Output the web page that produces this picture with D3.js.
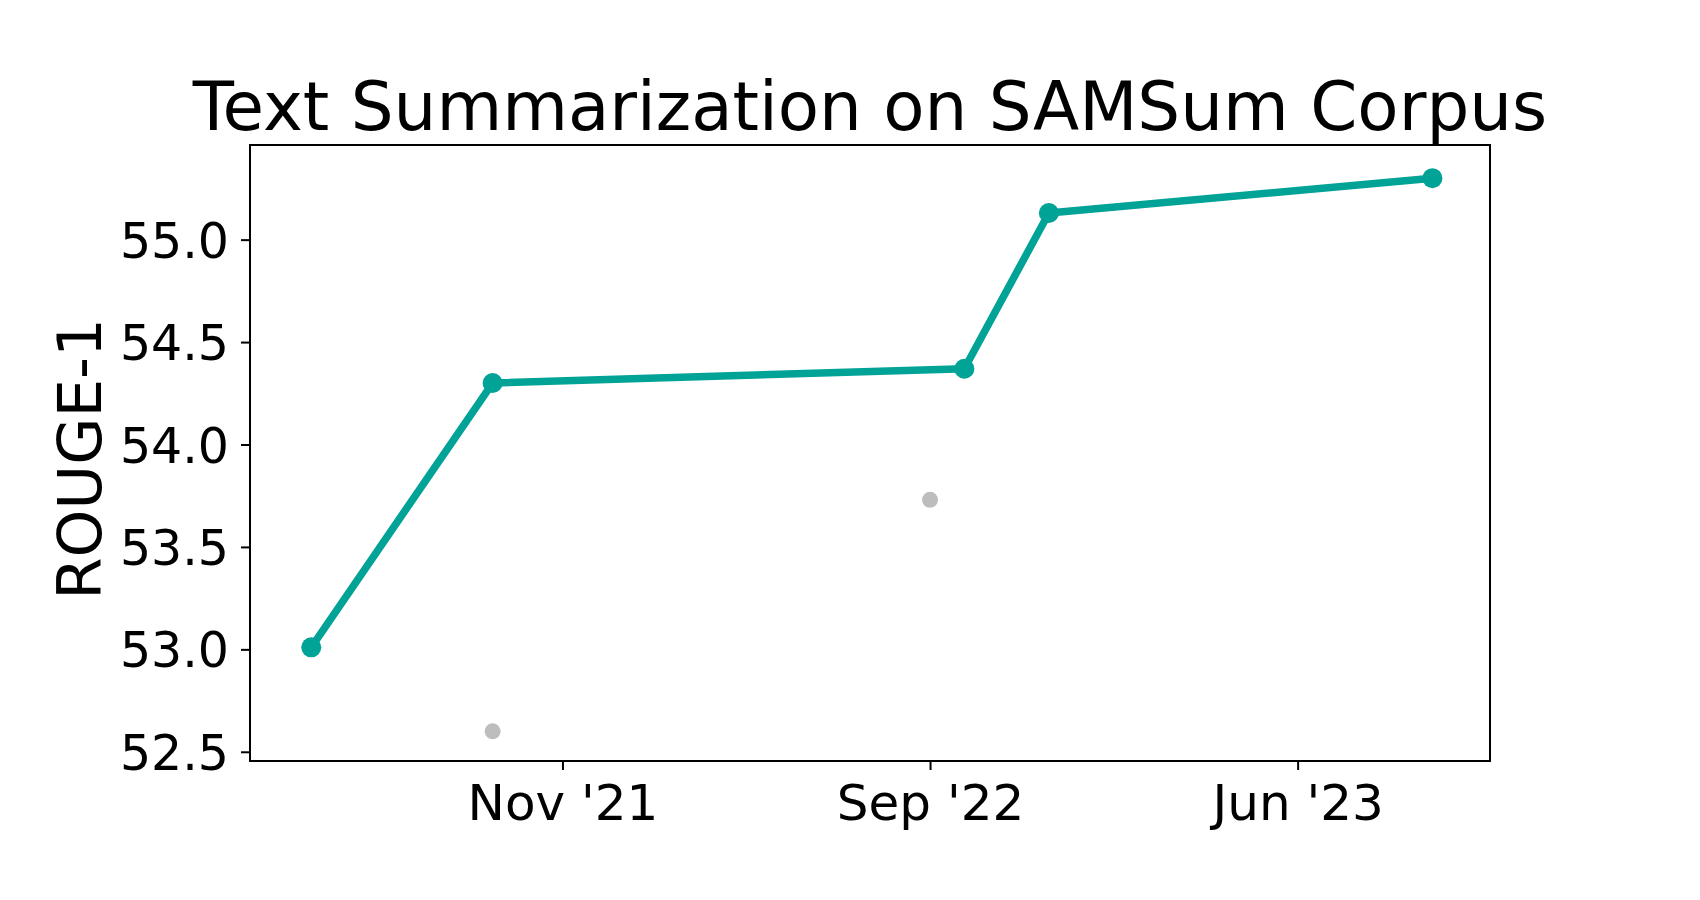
<!DOCTYPE html>
<html>
<head>
<meta charset="utf-8">
<script src="https://cdn.jsdelivr.net/npm/d3@7"></script>
<style>
  body { margin: 0; background: #fff; }
  text { font-family: "DejaVu Sans", sans-serif; }
</style>
</head>
<body>
<svg id="chart" width="1700" height="900"></svg>
<script>
// main series (best result over time)
const sotaDates = ["2021-04-15", "2021-09-10", "2022-09-30", "2022-12-08", "2023-10-17"];
const sotaValues = [53.01, 54.30, 54.37, 55.13, 55.30];
// other submissions (grey dots)
const otherDates = ["2021-09-10", "2022-09-02"];
const otherValues = [52.60, 53.73];
// x tick positions and their labels
const xTickDates = ["2021-11-06", "2022-09-02", "2023-06-29"];
const yTicks = [52.5, 53.0, 53.5, 54.0, 54.5, 55.0];

const title = "Text Summarization on SAMSum Corpus";
const yLabel = "ROUGE-1";

const svg = d3.select("#chart");
const margin = { top: 145, right: 210, bottom: 139, left: 250 };
const width = +svg.attr("width") - margin.left - margin.right;
const height = +svg.attr("height") - margin.top - margin.bottom;
const teal = "#00a396";
const grey = "#bdbdbd";

const parse = d3.timeParse("%Y-%m-%d");
const sota = sotaDates.map((d, i) => ({ date: parse(d), value: sotaValues[i] }));
const other = otherDates.map((d, i) => ({ date: parse(d), value: otherValues[i] }));

const xScale = d3.scaleTime()
  .domain([parse("2021-02-24"), parse("2023-12-03")])
  .range([0, width]);
const yScale = d3.scaleLinear()
  .domain([52.455, 55.462])
  .range([height, 0]);

const chart = svg.append("g").attr("transform", `translate(${margin.left},${margin.top})`);

// grey dots first, underneath the line
chart.selectAll(".other")
  .data(other)
  .enter()
  .append("circle")
  .attr("class", "other")
  .attr("cx", d => xScale(d.date))
  .attr("cy", d => yScale(d.value))
  .attr("r", 8)
  .attr("fill", grey);

const line = d3.line()
  .x(d => xScale(d.date))
  .y(d => yScale(d.value));

chart.append("path")
  .datum(sota)
  .attr("fill", "none")
  .attr("stroke", teal)
  .attr("stroke-width", 7.5)
  .attr("stroke-linejoin", "round")
  .attr("d", line);

chart.selectAll(".sota")
  .data(sota)
  .enter()
  .append("circle")
  .attr("class", "sota")
  .attr("cx", d => xScale(d.date))
  .attr("cy", d => yScale(d.value))
  .attr("r", 10)
  .attr("fill", teal);

// Add the X Axis
const xAxis = chart.append("g")
  .attr("transform", `translate(0,${height})`)
  .call(d3.axisBottom(xScale)
    .tickValues(xTickDates.map(parse))
    .tickFormat(d3.timeFormat("%b '%y"))
    .tickSize(9)
    .tickPadding(14));

// Add the Y Axis
const yAxis = chart.append("g")
  .call(d3.axisLeft(yScale)
    .tickValues(yTicks)
    .tickFormat(d3.format(".1f"))
    .tickSize(9)
    .tickPadding(12));

[xAxis, yAxis].forEach(ax => {
  ax.select(".domain").remove();
  ax.selectAll(".tick line").attr("stroke", "#000").attr("stroke-width", 2);
  ax.selectAll(".tick text")
    .style("font-family", "DejaVu Sans")
    .style("font-size", "49px")
    .attr("fill", "#000");
});
xAxis.selectAll(".tick text").style("font-size", "50px");
yAxis.selectAll(".tick text").attr("dy", "0.36em");

// frame
chart.append("rect")
  .attr("width", width)
  .attr("height", height)
  .attr("fill", "none")
  .attr("stroke", "#000")
  .attr("stroke-width", 2);

svg.append("text")
  .attr("x", margin.left + width / 2)
  .attr("y", 130)
  .attr("text-anchor", "middle")
  .style("font-size", "67.5px")
  .text(title);

svg.append("text")
  .attr("transform", `translate(101,${margin.top + height / 2 + 6}) rotate(-90)`)
  .attr("text-anchor", "middle")
  .style("font-size", "61px")
  .text(yLabel);
</script>
</body>
</html>
